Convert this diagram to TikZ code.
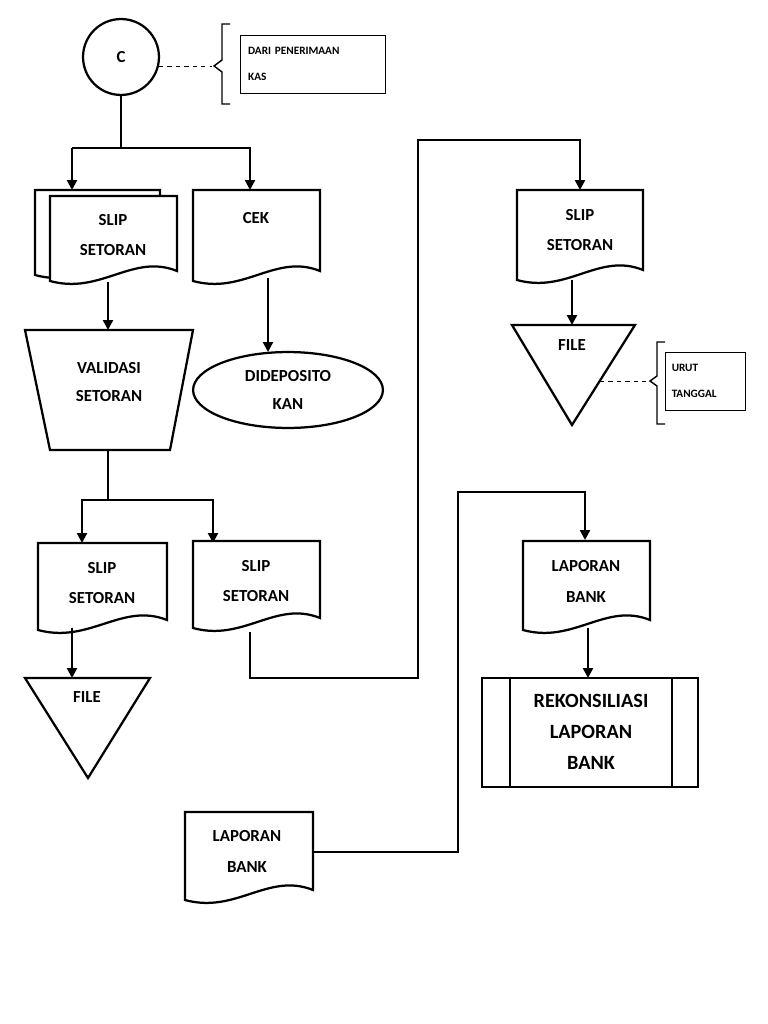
\documentclass[tikz,border=0pt]{standalone}
\usepackage{fontspec}
\setmainfont{Carlito}
\usetikzlibrary{arrows.meta,shapes.geometric}
\begin{document}
\begin{tikzpicture}[x=0.025cm,y=-0.025cm,
  line width=1.6pt,
  arr/.style={-{Triangle[length=7pt,width=7pt]}},
  lbl/.style={font=\bfseries\large,align=center},
  sml/.style={font=\bfseries\footnotesize,align=left},
  dline/.style={line width=0.5pt,dashed}]
\useasboundingbox (0,0) rectangle (768,1024);
% document shape: #1,#2 top-left, #3,#4 bottom-right
\newcommand\docshape[4]{%
  \draw[fill=white] (#1,#2) -- (#3,#2) -- (#3,#4-10)
    .. controls ({#3-0.35*(#3-#1)},#4-28) and ({#1+0.4*(#3-#1)},#4+14) .. (#1,#4) -- cycle;}
% connector C
\node[circle,draw,minimum size=54pt,inner sep=0,lbl] (c) at (121,57) {C};
\coordinate (cd) at (159,66);
\draw[dline] (cd) -- (212,66);
\draw[line width=1pt] (230,24) -- (222,24) -- (222,60) -- (214,66) -- (222,72) -- (222,104) -- (230,104);
\node[draw,line width=0.6pt,minimum width=103pt,minimum height=41pt,sml,anchor=north west,text width=92pt] (kas) at (240,35) {DARI PENERIMAAN\\[9pt]KAS};
\coordinate (s1) at (121,148);
\draw (c.south) -- (s1);
\draw[arr] (72,148) -- (72,190);
\draw[arr] (72,148) -- (250,148) -- (250,190);
% slip setoran (multi)
\docshape{35}{190}{160}{275}
\docshape{50}{196}{177}{281}
\node[lbl] (slip1) at (113,235) {SLIP\\[8pt]SETORAN};
% cek
\docshape{193}{190}{320}{281}
\node[lbl] (cek) at (256,218) {CEK};
\draw[arr] (108,282) -- (108,330);
% validasi
\draw (25,330) -- (193,330) -- (170,450) -- (50,450) -- cycle;
\node[lbl] (val) at (109,382) {VALIDASI\\[6pt]SETORAN};
\draw[arr] (268,278) -- (268,352);
\node[ellipse,draw,minimum width=135pt,minimum height=54pt,inner sep=0,lbl] (dep) at (288,390) {DIDEPOSITO\\[6pt]KAN};
\draw (108,450) -- (108,500);
\draw[arr] (108,500) -- (82,500) -- (82,543);
\draw[arr] (108,500) -- (213,500) -- (213,543);
\docshape{38}{543}{167}{630}
\node[lbl] (slip2) at (102,583) {SLIP\\[8pt]SETORAN};
\docshape{193}{541}{320}{628}
\node[lbl] (slip3) at (256,581) {SLIP\\[8pt]SETORAN};
\draw[arr] (72,628) -- (72,678);
\draw (25,678) -- (150,678) -- (88,778) -- cycle;
\node[lbl] (file1) at (87,697) {FILE};
\draw[arr] (250,632) -- (250,678) -- (418,678) -- (418,140) -- (580,140) -- (580,190);
% right slip
\docshape{517}{190}{643}{280}
\node[lbl] (slip4) at (580,230) {SLIP\\[8pt]SETORAN};
\draw[arr] (572,280) -- (572,325);
\draw (512,325) -- (635,325) -- (572,425) -- cycle;
\node[lbl] (file2) at (572,345) {FILE};
\draw[dline] (600,381) -- (648,381);
\draw[line width=1pt] (665,342) -- (657,342) -- (657,376) -- (650,381) -- (657,386) -- (657,424) -- (665,424);
\node[draw,line width=0.6pt,minimum width=57pt,minimum height=41pt,sml,anchor=north west,text width=48pt] (tgl) at (665,352) {URUT\\[9pt]TANGGAL};
% laporan bank
\docshape{185}{812}{313}{900}
\node[lbl] (lb1) at (247,851) {LAPORAN\\[8pt]BANK};
\draw[arr] (313,852) -- (458,852) -- (458,492) -- (585,492) -- (585,540);
\docshape{523}{541}{650}{630}
\node[lbl] (lb2) at (586,581) {LAPORAN\\[8pt]BANK};
\draw[arr] (588,628) -- (588,678);
\draw (482,678) rectangle (698,787);
\draw (510,678) -- (510,787) (672,678) -- (672,787);
\node[font=\bfseries\Large,align=center] (rek) at (591,732) {REKONSILIASI\\[4pt]LAPORAN\\[4pt]BANK};
\end{tikzpicture}
\end{document}
